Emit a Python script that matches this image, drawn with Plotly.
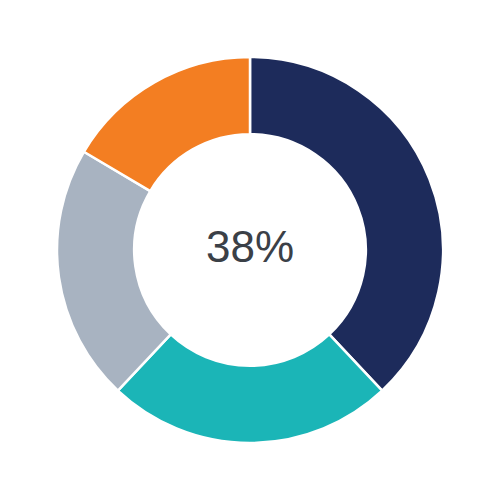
import plotly.graph_objects as go

# Segment shares, clockwise from 12 o'clock
labels = ['Segment A', 'Segment B', 'Segment C', 'Segment D']
values = [38, 24, 21.5, 16.5]
colors = ['#1d2b5b', '#1bb5b7', '#a8b3c1', '#f37e22']
center_text = '38%'

fig = go.Figure(
    go.Pie(
        labels=labels,
        values=values,
        hole=0.6,
        sort=False,
        direction='clockwise',
        rotation=0,
        marker=dict(colors=colors, line=dict(color='#ffffff', width=2.5)),
        textinfo='none',
        hoverinfo='label+percent',
        showlegend=False,
    )
)

# page body has an 8px default margin, so shift the plot area up-left
fig.update_layout(
    width=500,
    height=500,
    margin=dict(l=49, r=65, t=49, b=65),
    paper_bgcolor='#ffffff',
    plot_bgcolor='#ffffff',
    annotations=[dict(
        text=center_text, x=0.5, y=0.5, xref='paper', yref='paper',
        showarrow=False, yshift=4,
        font=dict(family='Liberation Sans, Arial, sans-serif', size=44, color='#3b4047'),
    )],
)

fig.write_html("out.html")
